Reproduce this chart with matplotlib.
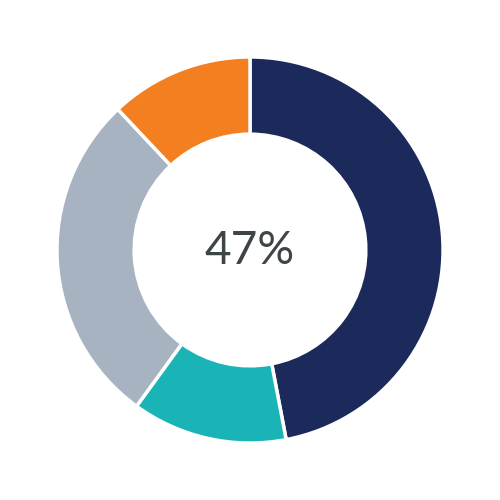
import matplotlib.pyplot as plt
plt.switch_backend('agg')

labels = ['A', 'B', 'C', 'D']
values = [47, 13, 28, 12]
colors = ['#1b2a5a', '#1bb4b6', '#a8b3c2', '#f47f20']
center_text = '47%'

fig = plt.figure(figsize=(5, 5), dpi=100)
ax = fig.add_axes([0, 0, 1, 1])
ax.pie(values, colors=colors, startangle=90, counterclock=False,
       wedgeprops=dict(width=0.40, edgecolor='white', linewidth=2.5))
ax.text(0, -0.005, center_text, ha='center', va='center', fontsize=33,
        color='#3d4548', family='Lato', fontweight='normal')
ax.set_xlim(-1.295, 1.295)
ax.set_ylim(-1.295, 1.295)
ax.set_aspect('equal')
ax.axis('off')
plt.savefig('out.png', dpi=100, facecolor='white')
